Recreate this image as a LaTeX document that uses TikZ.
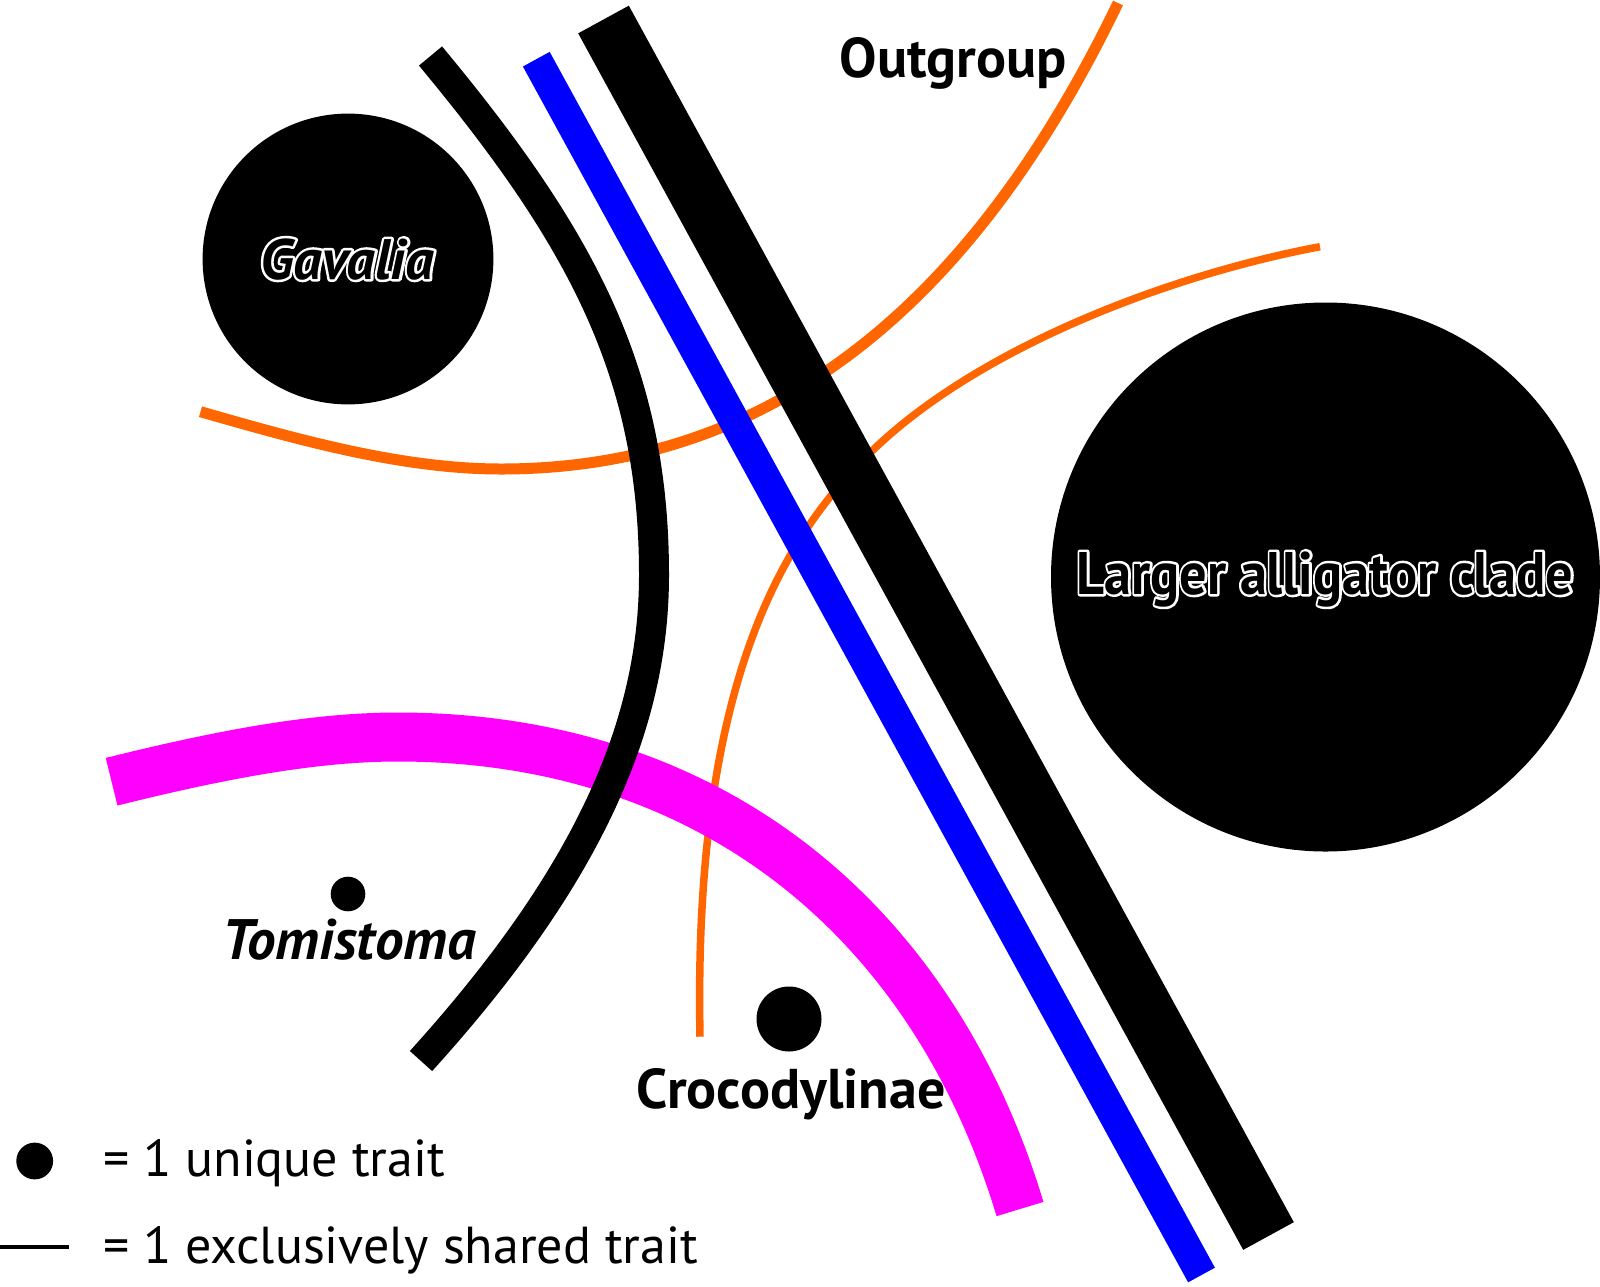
\documentclass[tikz,border=0pt]{standalone}
\usepackage{fontspec}
\setmainfont{PT Sans}
\definecolor{orng}{RGB}{255,102,0}
\definecolor{mgnt}{RGB}{255,0,255}
\definecolor{blu}{RGB}{0,0,255}
\newcommand{\outlinedtext}[1]{\special{pdf:literal direct 1 Tr 5 w 1 j 1 1 1 RG}\rlap{#1}\special{pdf:literal direct 0 Tr 0 0 0 RG}#1}
\begin{document}
\begin{tikzpicture}[x=1pt,y=-1pt,
  orangeA/.style={orng, line width=11pt},
  orangeB/.style={orng, line width=7.5pt},
  magband/.style={mgnt, line width=49pt},
  curveband/.style={black, line width=30pt},
  blueband/.style={blu, line width=30.5pt},
  thickband/.style={black, line width=57.7pt},
  dot/.style={circle, fill=black, inner sep=0pt},
  lbl/.style={anchor=base, inner sep=0pt, black}]
\useasboundingbox[fill=white] (0,0) rectangle (1600,1286);
% big circles
\node[dot, minimum size=290.8pt] (gav) at (348,259) {};
\node[dot, minimum size=549pt] (lac) at (1325.5,577) {};
% orange lines
\draw[orangeA] (200.5,411.7) .. controls (296.5,439.2) and (401,469) .. (501,469)
  .. controls (760,469) and (965,320) .. (1118,3);
\draw[orangeB] (1320,246.7) .. controls (1172.6,274.3) and (981,345.9) .. (873,450)
  .. controls (786.6,533.3) and (692.8,676.7) .. (700,1036.7);
% magenta
\draw[magband] (111.6,781.7) .. controls (208.6,757.7) and (307.6,737) .. (397.6,737)
  .. controls (711.8,737) and (933,921) .. (1020,1209);
% curved black
\draw[curveband] (430.5,56) .. controls (584.1,240.8) and (654,375) .. (654,575)
  .. controls (654,725) and (588.5,876) .. (421,1061);
% straight bands
\draw[blueband] (536.3,59.2) -- (1201.5,1275);
\draw[thickband] (603.5,19.5) -- (1268.5,1236);
% small dots
\node[dot, minimum size=34.6pt] (tomdot) at (348,894) {};
\node[dot, minimum size=65pt] (crocdot) at (789,1019) {};
\node[dot, minimum size=36.8pt] (legdot) at (34.7,1161) {};
\coordinate (lineA) at (0,1247);
\coordinate (lineB) at (69.4,1247);
\draw[black, line width=4pt] (lineA) -- (lineB);
% labels
\node[lbl, font=\bfseries\fontsize{56}{60}\selectfont] (outg) at (953,77.3) {Outgroup};
\node[lbl, font=\bfseries\itshape\fontsize{57}{60}\selectfont] (gavt) at (347,279) {\outlinedtext{Gavalia}};
\node[lbl, font=\bfseries\fontsize{60}{66}\selectfont] (lact) at (1325,594) {\scalebox{0.905}[1]{\outlinedtext{Larger alligator clade}}};
\node[lbl, font=\bfseries\itshape\fontsize{57}{60}\selectfont] (tomt) at (349,959) {Tomistoma};
\node[lbl, font=\bfseries\fontsize{56}{60}\selectfont] (croct) at (791,1108) {Crocodylinae};
\node[lbl, anchor=base west, font=\fontsize{52}{60}\selectfont] (leg1) at (103,1176) {= 1 unique trait};
\node[lbl, anchor=base west, font=\fontsize{52}{60}\selectfont] (leg2) at (103,1263) {= 1 exclusively shared trait};
\end{tikzpicture}
\end{document}
